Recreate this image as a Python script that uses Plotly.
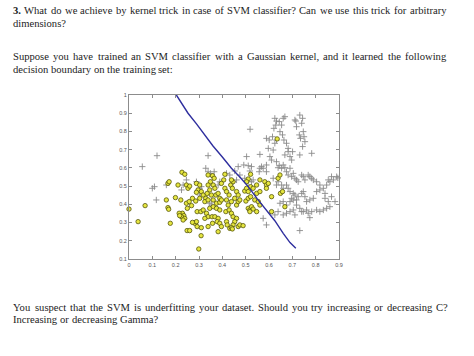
import plotly.graph_objects as go

W, H = 474, 356

# ---------------- data ----------------
yes_x = [0.000, 0.039, 0.069, 0.167, 0.172, 0.160, 0.167, 0.170, 0.177, 0.210, 0.199, 0.227, 0.239, 0.222,
         0.246, 0.253, 0.260, 0.229, 0.235, 0.225, 0.239, 0.232, 0.215, 0.217, 0.246, 0.258, 0.268, 0.250,
         0.272, 0.286, 0.292, 0.282, 0.289, 0.292, 0.249, 0.260, 0.272, 0.289, 0.296, 0.289, 0.303, 0.310,
         0.318, 0.303, 0.329, 0.325, 0.308, 0.318, 0.332, 0.339, 0.325, 0.310, 0.309, 0.299, 0.339, 0.358,
         0.365, 0.349, 0.339, 0.361, 0.368, 0.346, 0.335, 0.353, 0.372, 0.382, 0.389, 0.339, 0.361, 0.375,
         0.389, 0.396, 0.346, 0.361, 0.375, 0.389, 0.356, 0.368, 0.382, 0.339, 0.358, 0.378, 0.389, 0.396,
         0.382, 0.411, 0.406, 0.396, 0.411, 0.418, 0.429, 0.418, 0.425, 0.439, 0.415, 0.429, 0.439, 0.418,
         0.421, 0.432, 0.436, 0.446, 0.439, 0.443, 0.461, 0.468, 0.453, 0.461, 0.468, 0.475, 0.446, 0.461,
         0.453, 0.446, 0.439, 0.443, 0.468, 0.475, 0.489, 0.496, 0.504, 0.511, 0.501, 0.511, 0.521, 0.511,
         0.518, 0.525, 0.521, 0.511, 0.504, 0.521, 0.532, 0.547, 0.539, 0.554, 0.532, 0.547, 0.518, 0.547,
         0.561, 0.582, 0.589, 0.561, 0.589, 0.597, 0.611, 0.561, 0.611, 0.639, 0.647, 0.635, 0.649, 0.658,
         0.668]
yes_y = [0.374, 0.305, 0.393, 0.515, 0.524, 0.424, 0.382, 0.373, 0.296, 0.506, 0.437, 0.576, 0.565, 0.424,
         0.506, 0.488, 0.500, 0.351, 0.338, 0.332, 0.323, 0.314, 0.351, 0.338, 0.406, 0.415, 0.393, 0.378,
         0.433, 0.418, 0.360, 0.296, 0.305, 0.278, 0.256, 0.256, 0.301, 0.515, 0.479, 0.466, 0.506, 0.470,
         0.451, 0.433, 0.433, 0.415, 0.360, 0.369, 0.351, 0.332, 0.323, 0.272, 0.228, 0.155, 0.561, 0.557,
         0.543, 0.524, 0.506, 0.506, 0.488, 0.479, 0.460, 0.451, 0.451, 0.460, 0.433, 0.424, 0.424, 0.406,
         0.411, 0.424, 0.378, 0.387, 0.378, 0.369, 0.332, 0.332, 0.323, 0.278, 0.296, 0.305, 0.296, 0.278,
         0.250, 0.565, 0.534, 0.515, 0.488, 0.470, 0.451, 0.424, 0.396, 0.415, 0.360, 0.369, 0.351, 0.305,
         0.287, 0.268, 0.506, 0.524, 0.534, 0.488, 0.470, 0.451, 0.433, 0.396, 0.415, 0.424, 0.332, 0.323,
         0.305, 0.287, 0.272, 0.265, 0.278, 0.287, 0.283, 0.473, 0.488, 0.470, 0.418, 0.433, 0.442, 0.378,
         0.369, 0.387, 0.565, 0.539, 0.524, 0.497, 0.488, 0.460, 0.424, 0.415, 0.374, 0.360, 0.360, 0.506,
         0.534, 0.524, 0.506, 0.470, 0.488, 0.515, 0.442, 0.396, 0.360, 0.543, 0.561, 0.759, 0.460, 0.470,
         0.387]

no_x = [0.057, 0.100, 0.109, 0.120, 0.117, 0.160, 0.225, 0.232, 0.303, 0.310, 0.339, 0.329, 0.339, 0.349,
        0.365, 0.346, 0.353, 0.382, 0.389, 0.418, 0.432, 0.453, 0.468, 0.492, 0.475, 0.504, 0.511, 0.518,
        0.525, 0.446, 0.461, 0.519, 0.496, 0.511, 0.525, 0.532, 0.561, 0.558, 0.561, 0.568, 0.575, 0.589,
        0.589, 0.611, 0.597, 0.604, 0.618, 0.625, 0.632, 0.589, 0.601, 0.615, 0.621, 0.629, 0.632, 0.625,
        0.644, 0.654, 0.661, 0.668, 0.647, 0.658, 0.664, 0.675, 0.682, 0.668, 0.682, 0.690, 0.697, 0.701,
        0.711, 0.718, 0.715, 0.732, 0.740, 0.744, 0.730, 0.735, 0.744, 0.747, 0.750, 0.754, 0.783, 0.732,
        0.632, 0.639, 0.644, 0.654, 0.661, 0.668, 0.675, 0.690, 0.682, 0.697, 0.704, 0.711, 0.718, 0.725,
        0.740, 0.747, 0.754, 0.768, 0.775, 0.783, 0.790, 0.804, 0.818, 0.618, 0.632, 0.639, 0.654, 0.661,
        0.675, 0.682, 0.690, 0.704, 0.697, 0.711, 0.718, 0.725, 0.740, 0.747, 0.754, 0.761, 0.775, 0.790,
        0.804, 0.818, 0.833, 0.840, 0.847, 0.854, 0.861, 0.868, 0.876, 0.890, 0.895, 0.840, 0.854, 0.868,
        0.883, 0.647, 0.661, 0.675, 0.690, 0.704, 0.718, 0.732, 0.740, 0.661, 0.675, 0.690, 0.704, 0.711,
        0.747, 0.761, 0.768, 0.783, 0.804, 0.818, 0.833, 0.847, 0.861, 0.625, 0.639, 0.589, 0.575, 0.732,
        0.775, 0.246, 0.289, 0.303]
no_y = [0.607, 0.488, 0.497, 0.667, 0.424, 0.506, 0.479, 0.506, 0.488, 0.497, 0.667, 0.598, 0.579, 0.570,
        0.579, 0.406, 0.396, 0.506, 0.524, 0.570, 0.561, 0.583, 0.607, 0.616, 0.561, 0.662, 0.612, 0.583,
        0.607, 0.524, 0.534, 0.812, 0.543, 0.524, 0.524, 0.534, 0.674, 0.579, 0.598, 0.607, 0.598, 0.616,
        0.579, 0.643, 0.707, 0.662, 0.698, 0.735, 0.753, 0.762, 0.753, 0.771, 0.817, 0.835, 0.857, 0.872,
        0.854, 0.835, 0.872, 0.881, 0.799, 0.781, 0.753, 0.735, 0.689, 0.671, 0.707, 0.662, 0.643, 0.689,
        0.863, 0.826, 0.857, 0.890, 0.845, 0.872, 0.781, 0.762, 0.717, 0.799, 0.771, 0.744, 0.680, 0.671,
        0.634, 0.601, 0.612, 0.598, 0.616, 0.601, 0.579, 0.598, 0.561, 0.552, 0.570, 0.543, 0.534, 0.524,
        0.561, 0.552, 0.534, 0.561, 0.552, 0.543, 0.534, 0.524, 0.506, 0.543, 0.506, 0.524, 0.506, 0.488,
        0.506, 0.488, 0.470, 0.460, 0.433, 0.451, 0.424, 0.442, 0.460, 0.470, 0.442, 0.415, 0.424, 0.433,
        0.470, 0.479, 0.488, 0.460, 0.506, 0.534, 0.524, 0.552, 0.534, 0.552, 0.545, 0.433, 0.415, 0.442,
        0.415, 0.406, 0.415, 0.396, 0.415, 0.424, 0.396, 0.378, 0.360, 0.342, 0.351, 0.360, 0.369, 0.342,
        0.360, 0.369, 0.351, 0.360, 0.369, 0.360, 0.369, 0.378, 0.387, 0.342, 0.360, 0.287, 0.323, 0.256,
        0.327, 0.534, 0.524, 0.451]

boundary_x = [0.203, 0.228, 0.253, 0.290, 0.325, 0.360, 0.400, 0.439, 0.475, 0.511, 0.550, 0.589, 0.625,
              0.661, 0.690, 0.715]
boundary_y = [1.000, 0.950, 0.900, 0.840, 0.780, 0.720, 0.660, 0.598, 0.550, 0.497, 0.430, 0.369, 0.310,
              0.241, 0.190, 0.159]

x_ticks = [0, 0.1, 0.2, 0.3, 0.4, 0.5, 0.6, 0.7, 0.8, 0.9]
x_tick_labels = ["0", "0.1", "0.2", "0.3", "0.4", "0.5", "0.6", "0.7", "0.8", "0.9"]
y_ticks = [0.1, 0.2, 0.3, 0.4, 0.5, 0.6, 0.7, 0.8, 0.9, 1.0]
y_tick_labels = ["0.1", "0.2", "0.3", "0.4", "0.5", "0.6", "0.7", "0.8", "0.9", "1"]

# ---------------- text ----------------
lines = [
    # (words, baseline y px, right edge px or None if not justified)
    (["<b>3.</b>", "What", "do", "we", "achieve", "by", "kernel", "trick", "in", "case", "of", "SVM",
      "classifier?", "Can", "we", "use", "this", "trick", "for", "arbitrary"], 14.0, 446.0),
    (["dimensions?"], 26.7, None),
    (["Suppose", "you", "have", "trained", "an", "SVM", "classifier", "with", "a", "Gaussian", "kernel,",
      "and", "it", "learned", "the", "following"], 60.0, 446.0),
    (["decision", "boundary", "on", "the", "training", "set:"], 72.3, None),
    (["You", "suspect", "that", "the", "SVM", "is", "underfitting", "your", "dataset.", "Should", "you",
      "try", "increasing", "or", "decreasing", "C?"], 310.7, 448.0),
    (["Increasing", "or", "decreasing", "Gamma?"], 323.0, None),
]
LEFT = 13.3
FS = 10.6

# Times / Liberation Serif advance widths (per 1000 em)
TW = {' ': 250, '!': 333, ',': 250, '.': 250, ':': 278, '?': 444, '-': 333, '3': 500,
      'A': 722, 'C': 667, 'G': 722, 'I': 333, 'M': 889, 'S': 556, 'V': 722, 'W': 944, 'Y': 722,
      'a': 444, 'b': 500, 'c': 444, 'd': 500, 'e': 444, 'f': 333, 'g': 500, 'h': 500, 'i': 278,
      'j': 278, 'k': 500, 'l': 278, 'm': 778, 'n': 500, 'o': 500, 'p': 500, 'q': 500, 'r': 333,
      's': 389, 't': 278, 'u': 500, 'v': 500, 'w': 722, 'x': 500, 'y': 500, 'z': 444}


def wwidth(word):
    w = word.replace("<b>", "").replace("</b>", "")
    return sum(TW.get(c, 500) for c in w) * FS / 1000.0


fig = go.Figure()
fig.add_trace(go.Scatter(x=no_x, y=no_y, mode="markers", cliponaxis=False,
                         marker=dict(symbol="cross-thin", size=4.5, line=dict(color="#8a8a8a", width=0.9)),
                         showlegend=False, hoverinfo="skip"))
fig.add_trace(go.Scatter(x=yes_x, y=yes_y, mode="markers", cliponaxis=False,
                         marker=dict(symbol="circle", size=4.4, color="#e6e640",
                                     line=dict(color="#55550a", width=0.8)),
                         showlegend=False, hoverinfo="skip"))
fig.add_trace(go.Scatter(x=boundary_x, y=boundary_y, mode="lines", cliponaxis=False,
                         line=dict(color="#2e2e9e", width=1.4), showlegend=False, hoverinfo="skip"))

annotations = []
for words, base, right in lines:
    widths = [wwidth(w) for w in words]
    if right is None or len(words) == 1:
        gap = 250 * FS / 1000.0
    else:
        gap = (right - LEFT - sum(widths)) / (len(words) - 1)
    x = LEFT
    cy = base - 0.30 * FS
    for w, ww in zip(words, widths):
        annotations.append(dict(text=w, x=x / W, y=1 - cy / H, xref="paper", yref="paper",
                                xanchor="left", yanchor="middle", showarrow=False,
                                borderpad=0, borderwidth=0,
                                font=dict(family="Liberation Serif", size=FS, color="#1c1c1c")))
        x += ww + gap

axis_common = dict(showgrid=False, zeroline=False, showline=True, mirror="ticks",
                   linecolor="#8c8c8c", linewidth=1, ticks="inside", ticklen=3,
                   tickcolor="#8c8c8c", tickwidth=1,
                   tickfont=dict(family="Liberation Sans", size=5.5, color="#555555"))

fig.update_layout(
    width=W, height=H, margin=dict(l=0, r=0, t=0, b=0),
    paper_bgcolor="white", plot_bgcolor="white",
    xaxis=dict(domain=[129 / W, 339 / W], range=[0, 0.9], tickvals=x_ticks, ticktext=x_tick_labels,
               automargin=False, **axis_common),
    yaxis=dict(domain=[1 - 259 / H, 1 - 95 / H], range=[0.1, 1.0], tickvals=y_ticks,
               ticktext=y_tick_labels, automargin=False, **axis_common),
    annotations=annotations,
)

fig.write_html("out.html")
